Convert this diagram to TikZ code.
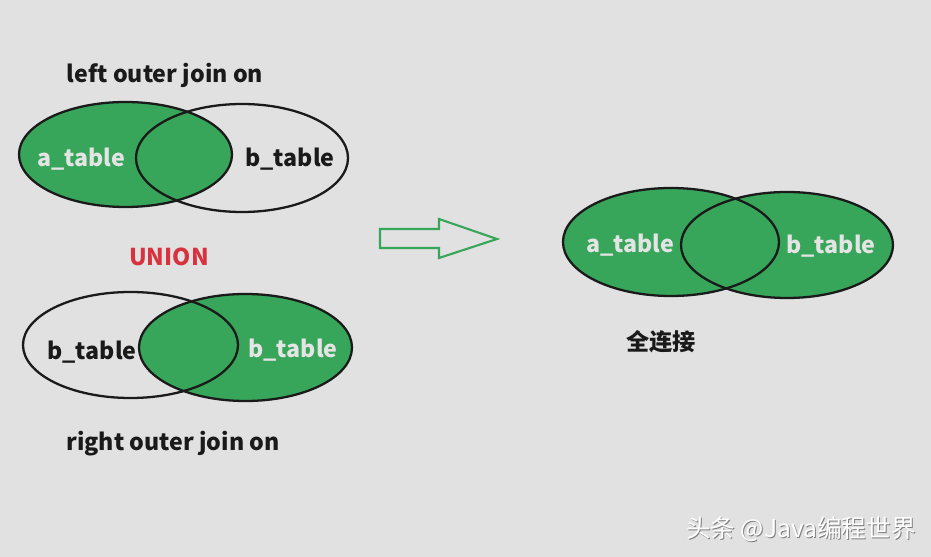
\documentclass[tikz,border=0pt]{standalone}
\usepackage{fontspec}
\setmainfont{Noto Sans CJK SC}
\usetikzlibrary{positioning}

\definecolor{bg}{HTML}{E1E1E1}
\definecolor{vgreen}{HTML}{37A65A}
\definecolor{vred}{HTML}{D7333F}
\definecolor{ink}{HTML}{1A1A1A}
\definecolor{label}{HTML}{E4E4E4}

\begin{document}
\begin{tikzpicture}[x=0.02cm, y=-0.02cm,
    set/.style={draw=ink, line width=1.3pt},
    inset/.style={fill=vgreen},
    dark/.style={font=\bfseries\fontsize{13.2}{15}\selectfont, text=ink, inner sep=0pt},
    light/.style={dark, text=label},
    watermark/.style={font=\fontsize{14}{16}\selectfont, inner sep=0pt},
    arrowline/.style={draw=vgreen, line width=1.2pt, line join=miter}
        ]

    \fill [bg, use as bounding box] (0,0) rectangle (931,557);

    % left outer join
    \fill [inset] (125.5,154.5) ellipse [x radius=106.5, y radius=52.5];
    \draw [set] (125.5,154.5) ellipse [x radius=106.5, y radius=52.5];
    \draw [set] (242,158) ellipse [x radius=106, y radius=54];

    \node [dark] (lefttitle) at (165,75) {left outer join on};
    \node [light] (lefta) at (81,159) {a\_table};
    \node [dark] (leftb) at (290,159) {b\_table};

    \node [dark, text=vred] (union) at (169,257) {UNION};

    % right outer join
    \fill [inset] (245.5,347.5) ellipse [x radius=106.5, y radius=53.5];
    \draw [set] (130.5,345) ellipse [x radius=107.5, y radius=53];
    \draw [set] (245.5,347.5) ellipse [x radius=106.5, y radius=53.5];

    \node [dark] (rightb) at (92,352) {b\_table};
    \node [light] (rightbb) at (293,350) {b\_table};
    \node [dark] (righttitle) at (173,444) {right outer join on};

    % arrow
    \draw [arrowline] (380,229) -- (439,229) -- (439,219) -- (497,239)
        -- (439,258) -- (439,248) -- (380,248) -- cycle;

    % full join
    \fill [inset] (671,242) ellipse [x radius=108, y radius=54];
    \fill [inset] (787,245) ellipse [x radius=106, y radius=53];
    \draw [set] (671,242) ellipse [x radius=108, y radius=54];
    \draw [set] (787,245) ellipse [x radius=106, y radius=53];

    \node [light] (fulla) at (630,245) {a\_table};
    \node [light] (fullb) at (831,246) {b\_table};
    \node [dark] (fulltitle) at (661,342) {全连接};

    % watermark
    \node [watermark, text=gray] (markshadow) at (802,530) {头条 @Java编程世界};
    \node [watermark, text=white] (marktext) at (801,529) {头条 @Java编程世界};

\end{tikzpicture}
\end{document}
